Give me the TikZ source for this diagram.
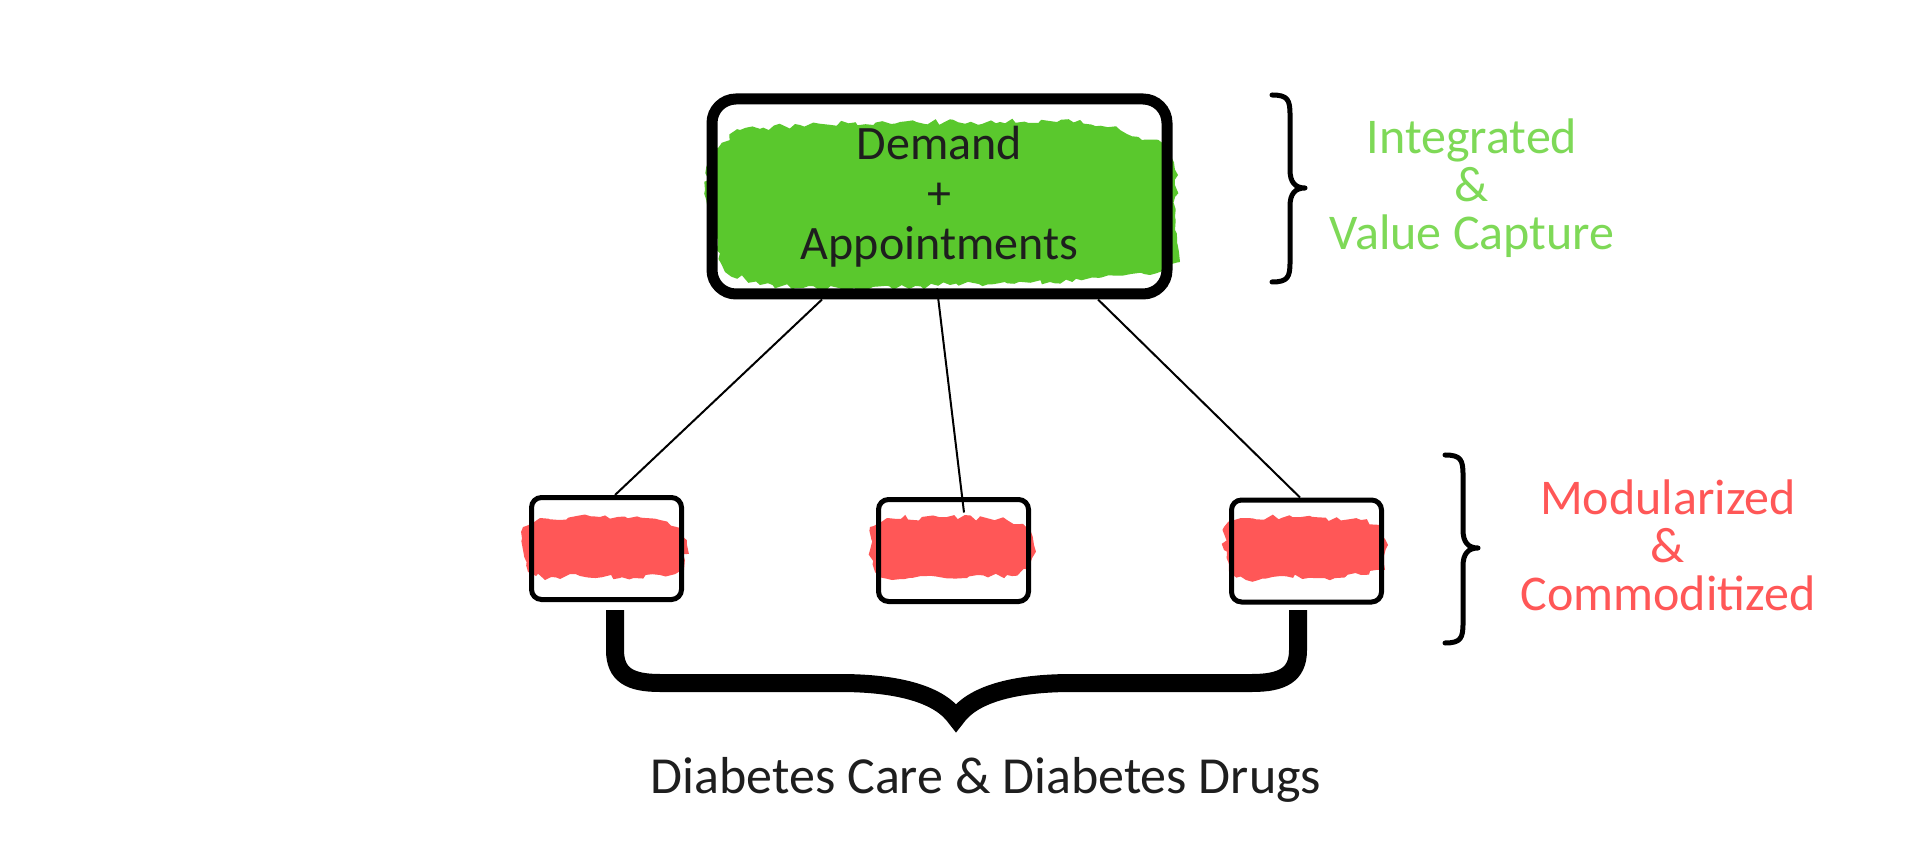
\documentclass[tikz,border=0pt]{standalone}
\usepackage{fontspec}
\setmainfont{Carlito}
\usetikzlibrary{decorations.pathmorphing}
\definecolor{brushgreen}{RGB}{90,200,45}
\definecolor{txtgreen}{RGB}{126,217,87}
\definecolor{brushred}{RGB}{255,87,87}
\definecolor{ink}{RGB}{30,30,30}
\begin{document}
\begin{tikzpicture}[x=0.5pt,y=-0.5pt,
 bigbox/.style={draw=black, line width=5.5pt, rounded corners=12pt, minimum width=227.5pt, minimum height=97.5pt, inner sep=0pt, align=center, text=ink, font=\fontsize{24}{25}\selectfont},
 smallbox/.style={draw=black, line width=2.5pt, rounded corners=5pt, minimum width=75pt, minimum height=51pt, inner sep=0pt},
 link/.style={draw=black, line width=1pt},
 brace/.style={draw=black, line width=2.5pt, line cap=round, line join=round},
 bigbrace/.style={draw=black, line width=9pt, line join=miter},
 brush/.style={decorate, decoration={random steps, segment length=3pt, amplitude=1.5pt}},
 lbl/.style={font=\fontsize{25}{24}\selectfont, align=center, inner sep=0pt}]
\pgfmathsetseed{42}
\useasboundingbox (0,0) rectangle (1920,865);
\fill[white] (0,0) rectangle (1920,865);

% green brush
\fill[brushgreen, brush] (712,150) -- (740,130) -- (800,125) -- (900,122) -- (1000,122) -- (1080,120) -- (1120,130) -- (1165,145) -- (1178,175) -- (1175,230) -- (1180,262) -- (1150,275) -- (1050,282) -- (950,285) -- (850,290) -- (760,285) -- (725,272) -- (712,230) -- (705,190) -- cycle;

% red brushes
\foreach \dx in {0,347,701}{
\begin{scope}[xshift=\dx*0.5pt]
\fill[brushred, brush] (523,527) -- (540,518) -- (600,517) -- (660,520) -- (680,528) -- (687,545) -- (684,570) -- (660,575) -- (620,578) -- (580,576) -- (545,580) -- (528,572) -- (523,550) -- cycle;
\end{scope}}

% boxes
\node[bigbox] (top) at (939.5,196.5) {Demand\\+\\Appointments};
\node[smallbox] (m1) at (606.5,548.5) {};
\node[smallbox] (m2) at (953.5,550.5) {};
\node[smallbox] (m3) at (1306.5,551) {};

% connectors
\draw[link] ([xshift=-58.75pt]top.south) -- ([xshift=4.25pt]m1.north);
\draw[link] ([xshift=-1.25pt,yshift=5.5pt]top.south) -- ([xshift=5.25pt,yshift=-7.75pt]m2.north);
\draw[link] ([xshift=79.25pt]top.south) -- ([xshift=-3.25pt]m3.north);

% right braces
\draw[brace] (1272,95) .. controls (1288,95) and (1290,100) .. (1290,115) -- (1290,170) .. controls (1290,182) and (1295,188) .. (1305,188) .. controls (1295,188) and (1290,194) .. (1290,206) -- (1290,262) .. controls (1290,277) and (1288,282) .. (1272,282);
\draw[brace] (1445,455) .. controls (1461,455) and (1463,460) .. (1463,475) -- (1463,530) .. controls (1463,542) and (1468,548) .. (1478,548) .. controls (1468,548) and (1463,554) .. (1463,566) -- (1463,623) .. controls (1463,638) and (1461,643) .. (1445,643);

% labels
\node[lbl, text=txtgreen] (integ) at (1472,188) {Integrated\\\&\\Value Capture};
\node[lbl, text=brushred] (modul) at (1668,545) {Modularized\\\&\\Commoditized};

% bottom brace
\draw[bigbrace] (615,610) -- (615,650) .. controls (615,675) and (630,683) .. (660,683) -- (840,683) .. controls (900,683) and (940,695) .. (956,718) .. controls (972,695) and (1012,683) .. (1072,683) -- (1252,683) .. controls (1282,683) and (1298,675) .. (1298,650) -- (1298,610);

\node[lbl, text=ink, font=\fontsize{26}{26}\selectfont] (diab) at (986,780) {Diabetes Care \& Diabetes Drugs};
\end{tikzpicture}
\end{document}
